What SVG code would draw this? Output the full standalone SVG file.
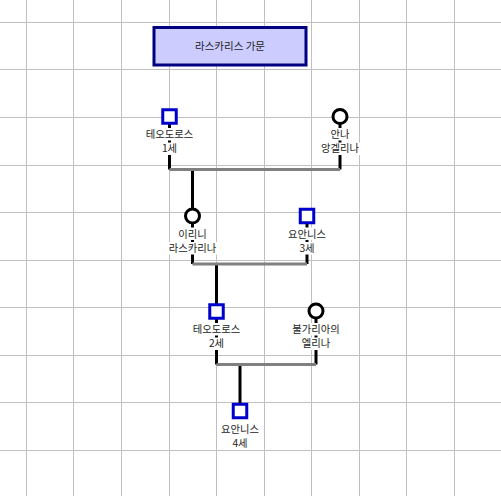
<svg xmlns="http://www.w3.org/2000/svg" width="501" height="496" viewBox="0 0 501 496">
<style>
.grid line{stroke:#c0c0c0;stroke-width:1}
.par{stroke:#000;stroke-width:3;fill:none}
.bar{stroke:#808080;stroke-width:3;fill:none}
.m{fill:#fff;stroke:#0000cc;stroke-width:3}
.f{fill:#fff;stroke:#000;stroke-width:3}
.bg{fill:#fff}
.lbl{font-family:"Noto Sans CJK KR","Noto Sans",sans-serif;font-size:10.3px;fill:#222;text-anchor:middle}
.ttl{font-family:"Noto Sans CJK KR","Noto Sans",sans-serif;font-size:10.5px;fill:#222;text-anchor:middle}
</style>
<rect width="501" height="496" fill="#fff"/>
<g class="grid">
<line x1="26.5" y1="0" x2="26.5" y2="496"/>
<line x1="73.5" y1="0" x2="73.5" y2="496"/>
<line x1="121.5" y1="0" x2="121.5" y2="496"/>
<line x1="169.5" y1="0" x2="169.5" y2="496"/>
<line x1="216.5" y1="0" x2="216.5" y2="496"/>
<line x1="264.5" y1="0" x2="264.5" y2="496"/>
<line x1="311.5" y1="0" x2="311.5" y2="496"/>
<line x1="359.5" y1="0" x2="359.5" y2="496"/>
<line x1="406.5" y1="0" x2="406.5" y2="496"/>
<line x1="454.5" y1="0" x2="454.5" y2="496"/>
<line x1="0" y1="22.5" x2="501" y2="22.5"/>
<line x1="0" y1="69.5" x2="501" y2="69.5"/>
<line x1="0" y1="117.5" x2="501" y2="117.5"/>
<line x1="0" y1="165.5" x2="501" y2="165.5"/>
<line x1="0" y1="212.5" x2="501" y2="212.5"/>
<line x1="0" y1="260.5" x2="501" y2="260.5"/>
<line x1="0" y1="307.5" x2="501" y2="307.5"/>
<line x1="0" y1="355.5" x2="501" y2="355.5"/>
<line x1="0" y1="402.5" x2="501" y2="402.5"/>
<line x1="0" y1="450.5" x2="501" y2="450.5"/>
</g>
<g id="connectors">
<line class="par" x1="169.5" y1="116.5" x2="169.5" y2="169.5"/>
<line class="par" x1="340" y1="116.5" x2="340" y2="169.5"/>
<line class="par" x1="192.5" y1="169.5" x2="192.5" y2="216"/>
<line class="bar" x1="169.5" y1="169.5" x2="340" y2="169.5"/>
<line class="par" x1="192.5" y1="216" x2="192.5" y2="264"/>
<line class="par" x1="307" y1="216" x2="307" y2="264"/>
<line class="par" x1="216.5" y1="264" x2="216.5" y2="311.5"/>
<line class="bar" x1="192.5" y1="264" x2="307" y2="264"/>
<line class="par" x1="216.5" y1="311.5" x2="216.5" y2="364.5"/>
<line class="par" x1="316" y1="311" x2="316" y2="364.5"/>
<line class="par" x1="240" y1="364.5" x2="240" y2="411"/>
<line class="bar" x1="216.5" y1="364.5" x2="316" y2="364.5"/>
</g>
<g id="title">
<rect x="154" y="27.5" width="152" height="37.5" fill="#ccccff" stroke="#000080" stroke-width="3"/>
<text class="ttl" x="230" y="50">라스카리스 가문</text>
</g>
<g id="theodoros1">
<rect class="m" x="162.75" y="109.75" width="13.5" height="13.5"/>
<rect class="bg" x="142" y="128" width="55" height="12.5"/>
<rect class="bg" x="160" y="142.5" width="19" height="12.5"/>
<text class="lbl" x="169.5" y="138">테오도로스</text>
<text class="lbl" x="169.5" y="152">1세</text>
</g>
<g id="anna">
<circle class="f" cx="340" cy="116.5" r="7"/>
<rect class="bg" x="328" y="128" width="24" height="12.5"/>
<rect class="bg" x="318" y="142.5" width="44" height="12.5"/>
<text class="lbl" x="340" y="138">안나</text>
<text class="lbl" x="340" y="152">앙겔리나</text>
</g>
<g id="irini">
<circle class="f" cx="192.5" cy="216" r="7"/>
<rect class="bg" x="175" y="227.5" width="35" height="12.5"/>
<rect class="bg" x="166" y="242" width="53" height="12.5"/>
<text class="lbl" x="192.5" y="237.5">이리니</text>
<text class="lbl" x="192.5" y="251.5">라스카리나</text>
</g>
<g id="ioannis3">
<rect class="m" x="300.25" y="209.25" width="13.5" height="13.5"/>
<rect class="bg" x="285" y="227.5" width="44" height="12.5"/>
<rect class="bg" x="297.5" y="242" width="19" height="12.5"/>
<text class="lbl" x="307" y="237.5">요안니스</text>
<text class="lbl" x="307" y="251.5">3세</text>
</g>
<g id="theodoros2">
<rect class="m" x="209.75" y="304.75" width="13.5" height="13.5"/>
<rect class="bg" x="189" y="323" width="55" height="12.5"/>
<rect class="bg" x="207" y="337.5" width="19" height="12.5"/>
<text class="lbl" x="216.5" y="333">테오도로스</text>
<text class="lbl" x="216.5" y="347">2세</text>
</g>
<g id="elena">
<circle class="f" cx="316" cy="311" r="7"/>
<rect class="bg" x="289" y="323" width="55" height="12.5"/>
<rect class="bg" x="299" y="337.5" width="35" height="12.5"/>
<text class="lbl" x="316" y="333">불가리아의</text>
<text class="lbl" x="316" y="347">엘리나</text>
</g>
<g id="ioannis4">
<rect class="m" x="233.25" y="404.25" width="13.5" height="13.5"/>
<rect class="bg" x="218" y="422.5" width="44" height="12.5"/>
<rect class="bg" x="230.5" y="437" width="19" height="12.5"/>
<text class="lbl" x="240" y="432.5">요안니스</text>
<text class="lbl" x="240" y="446.5">4세</text>
</g>
</svg>
